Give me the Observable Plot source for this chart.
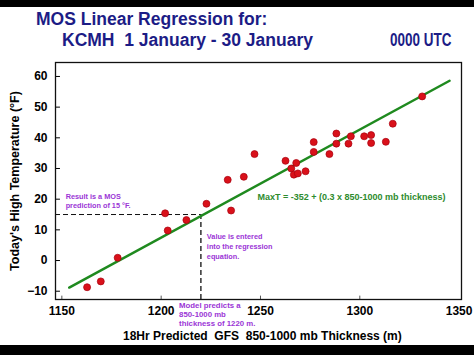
<!DOCTYPE html>
<html>
<head>
<meta charset="utf-8">
<script src="https://cdn.jsdelivr.net/npm/d3@7"></script>
<script src="https://cdn.jsdelivr.net/npm/@observablehq/plot@0.6"></script>
<style>
  html, body { margin: 0; padding: 0; background: #000; }
  #page { position: relative; width: 474px; height: 355px; overflow: hidden; background: #000;
          font-family: "Liberation Sans", Arial, sans-serif; }
  #panel { position: absolute; left: 0; top: 7px; width: 474px; height: 338px; background: #fff; }
  .title { position: absolute; color: #1c1c86; font-weight: bold; font-size: 17.5px; white-space: pre; line-height: 1; }
  .axis-title { position: absolute; color: #000; font-weight: bold; font-size: 12px; white-space: pre; line-height: 1; }
  #chart { position: absolute; left: 0; top: 50px; }
</style>
</head>
<body>
<div id="page">
  <div id="panel"></div>
  <div class="title" style="left:36px; top:11px;">MOS Linear Regression for:</div>
  <div class="title" style="left:62px; top:32px;">KCMH  1 January - 30 January</div>
  <div class="title" style="left:390px; top:32px; transform: scaleX(0.77); transform-origin: left center;">0000 UTC</div>
  <div id="chart"></div>
  <div class="axis-title" style="left:123px; top:330px;">18Hr Predicted  GFS  850-1000 mb Thickness (m)</div>
  <div class="axis-title" style="left:15px; top:181px; font-size:12.5px; transform: translate(-50%,-50%) rotate(-90deg);">Today's High Temperature (°F)</div>
</div>
<script>
// 850-1000 mb thickness (m) and observed high temperature (°F), 1-30 January
const thickness = [1162.7, 1169.6, 1178.1, 1202.0, 1203.3, 1212.7, 1222.8, 1233.5, 1235.2, 1241.6,
                   1247.0, 1262.6, 1265.5, 1268.0, 1266.8, 1268.8, 1272.7, 1276.8, 1276.8, 1284.7,
                   1288.2, 1288.2, 1294.3, 1295.5, 1302.2, 1305.7, 1305.7, 1313.1, 1316.6, 1331.4];
const highTemp  = [-8.7, -6.8, 0.9, 15.4, 9.8, 13.2, 18.5, 26.3, 16.3, 27.3,
                   34.7, 32.5, 30.0, 31.8, 28.0, 28.4, 29.1, 38.6, 35.4, 34.7,
                   41.4, 38.1, 38.1, 40.5, 40.5, 40.9, 38.3, 38.7, 44.6, 53.5];

// Regression line end points
const fitX = [1153.7, 1345.2];
const fitY = [-8.8, 58.6];

// Worked example: forecast thickness and resulting MOS prediction
const exampleThickness = 1220;
const examplePrediction = 15;

const xTicks = [1150, 1200, 1250, 1300, 1350];
const yTicks = [-10, 0, 10, 20, 30, 40, 50, 60];

const equationText = "MaxT = -352 + (0.3 x 850-1000 mb thickness)";
const resultText = "Result is a MOS\nprediction of 15 °F.";
const enteredText = "Value is entered\ninto the regression\nequation.";
const modelText = "Model predicts a\n850-1000 mb\nthickness of 1220 m.";

const xDomain = [1146.8, 1351.2];
const yDomain = [-12.7, 64.55];

const points = thickness.map((t, i) => ({t, temp: highTemp[i]}));
const fit = fitX.map((t, i) => ({t, temp: fitY[i]}));

const purple = "#9b35d6";
const annotationStyle = {fill: purple, fontSize: 7.3, fontWeight: "bold", textAnchor: "start", lineHeight: 1.35};

const chart = Plot.plot({
  width: 474,
  height: 295,
  marginLeft: 55,
  marginRight: 13,
  marginTop: 12,
  marginBottom: 46,
  style: {fontFamily: "Liberation Sans, Arial, sans-serif", fontSize: "12px", fontWeight: "bold",
          background: "transparent", color: "#000", overflow: "visible"},
  x: {domain: xDomain, ticks: xTicks, tickFormat: d => String(d), tickSize: 0, tickPadding: 7, label: null},
  y: {domain: yDomain, ticks: yTicks, tickSize: 0, tickPadding: 8, label: null},
  marks: [
    // inward tick marks
    Plot.ruleY(yTicks, {x1: xDomain[0], x2: xDomain[0] + 2.5, stroke: "#000", strokeWidth: 1}),
    Plot.ruleX(xTicks.slice(0, 4), {y1: yDomain[0], y2: yDomain[0] + 1.1, stroke: "#555", strokeWidth: 1}),
    // worked-example guide lines
    Plot.ruleY([examplePrediction], {x1: xDomain[0], x2: exampleThickness, stroke: "#111", strokeWidth: 1, strokeDasharray: "5,3"}),
    Plot.ruleX([exampleThickness], {y1: yDomain[0], y2: examplePrediction, stroke: "#111", strokeWidth: 1.3, strokeDasharray: "5,3"}),
    // regression line
    Plot.line(fit, {x: "t", y: "temp", stroke: "#1f8a1f", strokeWidth: 2.5}),
    // observations
    Plot.dot(points, {x: "t", y: "temp", r: 3.5, fill: "#d9111a", stroke: "#a8000e", strokeWidth: 0.7}),
    // annotations
    Plot.text([equationText], {x: 1248.5, y: 20.8, text: d => d, fill: "#2e8b2e", fontSize: 9, fontWeight: "bold", textAnchor: "start"}),
    Plot.text([resultText], {x: 1151.9, y: 19.6, text: d => d, ...annotationStyle}),
    Plot.text([enteredText], {x: 1223.0, y: 9.2, text: d => d, ...annotationStyle, lineAnchor: "top"}),
    Plot.text([modelText], {x: 1209.0, y: yDomain[0], dy: 2, text: d => d, ...annotationStyle, fontSize: 7.8, lineHeight: 1.15, lineAnchor: "top"}),
    Plot.frame({stroke: "#111", strokeWidth: 1.3})
  ]
});
document.getElementById("chart").appendChild(chart);
</script>
</body>
</html>
